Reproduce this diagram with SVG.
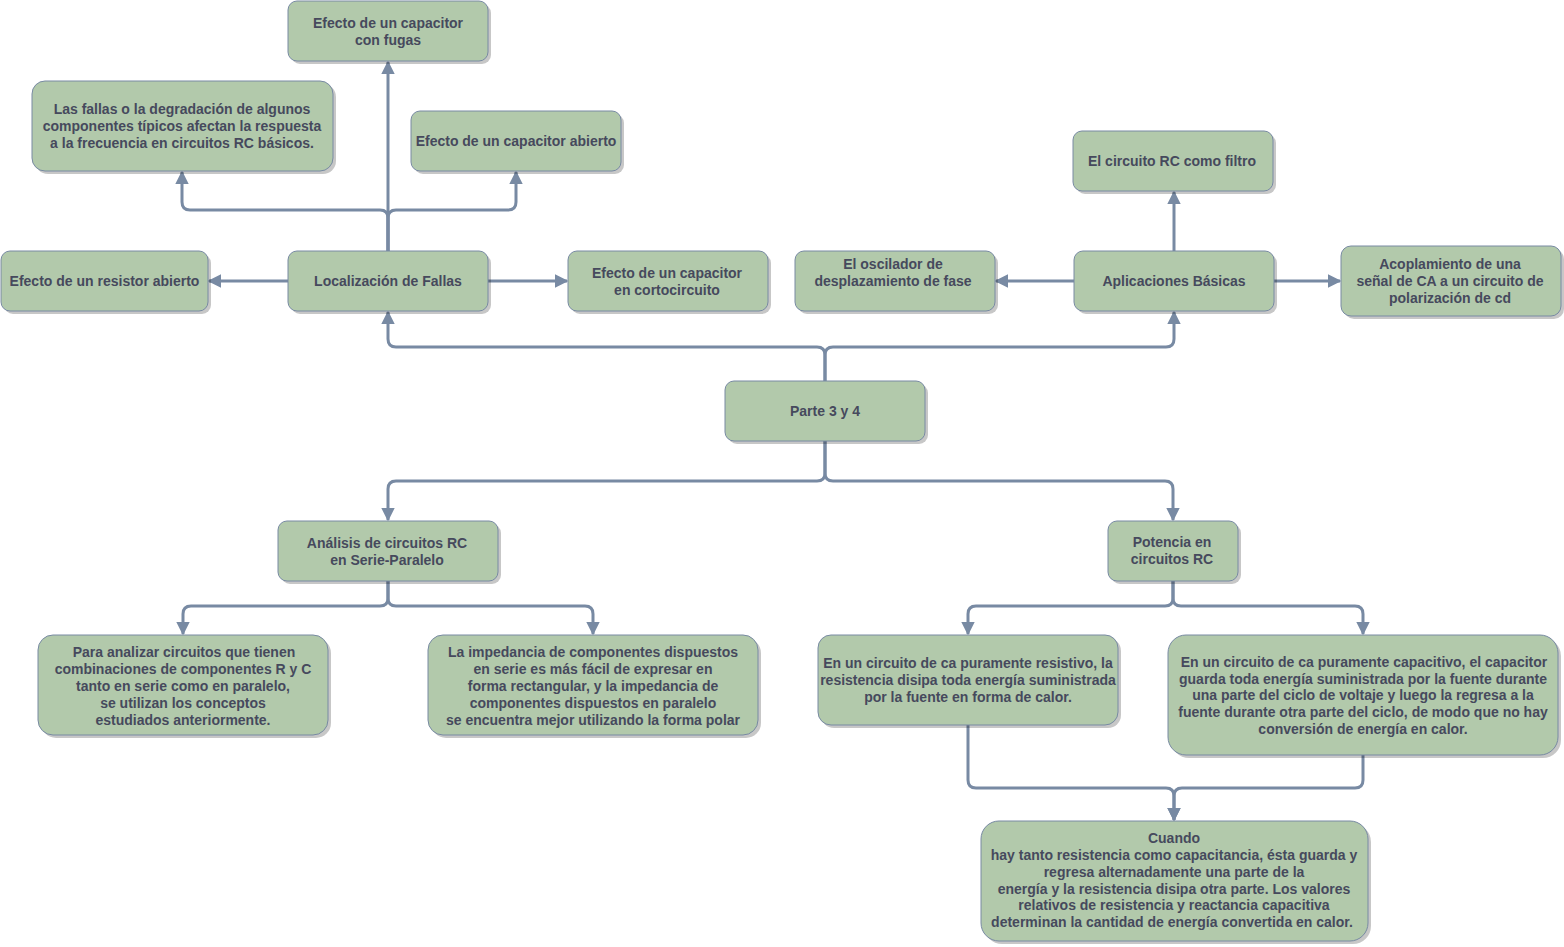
<svg xmlns="http://www.w3.org/2000/svg" width="1564" height="947" viewBox="0 0 1564 947">
<defs>
<style>
.n rect.b{fill:#B2C9AB;stroke:#788AA3;stroke-width:1}
.n rect.s{fill:#000;opacity:0.22}
.n text{font-family:"Liberation Sans",Arial,Helvetica,sans-serif;font-size:14px;font-weight:bold;fill:#46495D;text-anchor:middle}
.c path{fill:none;stroke:#788AA3;stroke-width:3;stroke-linejoin:round}
</style>
<marker id="ah" viewBox="0 0 10 10" refX="9" refY="5" markerWidth="4.5" markerHeight="4.5" markerUnits="strokeWidth" orient="auto">
<path d="M0,0 L10,5 L0,10 Z" fill="#788AA3"/>
</marker>
</defs>
<rect width="1564" height="947" fill="#ffffff"/>
<g class="c">
<path d="M825,381 V355 Q825,347 817,347 H396 Q388,347 388,339 V312" marker-end="url(#ah)"/>
<path d="M825,381 V355 Q825,347 833,347 H1166 Q1174,347 1174,339 V312" marker-end="url(#ah)"/>
<path d="M825,441 V473 Q825,481 817,481 H396 Q388,481 388,489 V520" marker-end="url(#ah)"/>
<path d="M825,441 V473 Q825,481 833,481 H1165 Q1173,481 1173,489 V520" marker-end="url(#ah)"/>
<path d="M388,251 V62" marker-end="url(#ah)"/>
<path d="M388,251 V218 Q388,210 380,210 H190 Q182,210 182,202 V172" marker-end="url(#ah)"/>
<path d="M388,251 V218 Q388,210 396,210 H508 Q516,210 516,202 V172" marker-end="url(#ah)"/>
<path d="M288,281 H209" marker-end="url(#ah)"/>
<path d="M488,281 H567" marker-end="url(#ah)"/>
<path d="M1174,251 V192" marker-end="url(#ah)"/>
<path d="M1074,281 H996" marker-end="url(#ah)"/>
<path d="M1274,281 H1340" marker-end="url(#ah)"/>
<path d="M388,581 V598 Q388,606 380,606 H191 Q183,606 183,614 V634" marker-end="url(#ah)"/>
<path d="M388,581 V598 Q388,606 396,606 H585 Q593,606 593,614 V634" marker-end="url(#ah)"/>
<path d="M1173,581 V598 Q1173,606 1165,606 H976 Q968,606 968,614 V634" marker-end="url(#ah)"/>
<path d="M1173,581 V598 Q1173,606 1181,606 H1355 Q1363,606 1363,614 V634" marker-end="url(#ah)"/>
<path d="M968,725 V780 Q968,788 976,788 H1166 Q1174,788 1174,796 V820" marker-end="url(#ah)"/>
<path d="M1363,755 V780 Q1363,788 1355,788 H1182 Q1174,788 1174,796 V820" marker-end="url(#ah)"/>
</g>
<g id="n1" class="n"><rect class="s" x="291" y="4" width="200" height="60" rx="9"/><rect class="b" x="288" y="1" width="200" height="60" rx="9"/><text x="388" y="28">Efecto de un capacitor</text><text x="388" y="45">con fugas</text></g>
<g id="n2" class="n"><rect class="s" x="35" y="84" width="301" height="90" rx="13"/><rect class="b" x="32" y="81" width="301" height="90" rx="13"/><text x="182" y="114">Las fallas o la degradación de algunos</text><text x="182" y="131">componentes típicos afectan la respuesta</text><text x="182" y="148">a la frecuencia en circuitos RC básicos.</text></g>
<g id="n3" class="n"><rect class="s" x="414" y="114" width="210" height="60" rx="9"/><rect class="b" x="411" y="111" width="210" height="60" rx="9"/><text x="516" y="146">Efecto de un capacitor abierto</text></g>
<g id="n4" class="n"><rect class="s" x="4" y="254" width="207" height="60" rx="9"/><rect class="b" x="1" y="251" width="207" height="60" rx="9"/><text x="104.5" y="286">Efecto de un resistor abierto</text></g>
<g id="n5" class="n"><rect class="s" x="291" y="254" width="200" height="60" rx="9"/><rect class="b" x="288" y="251" width="200" height="60" rx="9"/><text x="388" y="286">Localización de Fallas</text></g>
<g id="n6" class="n"><rect class="s" x="571" y="254" width="200" height="60" rx="9"/><rect class="b" x="568" y="251" width="200" height="60" rx="9"/><text x="667" y="278">Efecto de un capacitor</text><text x="667" y="295">en cortocircuito</text></g>
<g id="n7" class="n"><rect class="s" x="1076" y="134" width="200" height="60" rx="9"/><rect class="b" x="1073" y="131" width="200" height="60" rx="9"/><text x="1172" y="166">El circuito RC como filtro</text></g>
<g id="n8" class="n"><rect class="s" x="798" y="254" width="200" height="60" rx="9"/><rect class="b" x="795" y="251" width="200" height="60" rx="9"/><text x="893" y="269">El oscilador de</text><text x="893" y="286">desplazamiento de fase</text></g>
<g id="n9" class="n"><rect class="s" x="1077" y="254" width="200" height="60" rx="9"/><rect class="b" x="1074" y="251" width="200" height="60" rx="9"/><text x="1174" y="286">Aplicaciones Básicas</text></g>
<g id="n10" class="n"><rect class="s" x="1344" y="249" width="220" height="70" rx="10"/><rect class="b" x="1341" y="246" width="220" height="70" rx="10"/><text x="1450" y="269">Acoplamiento de una</text><text x="1450" y="286">señal de CA a un circuito de</text><text x="1450" y="303">polarización de cd</text></g>
<g id="n11" class="n"><rect class="s" x="728" y="384" width="200" height="60" rx="9"/><rect class="b" x="725" y="381" width="200" height="60" rx="9"/><text x="825" y="416">Parte 3 y 4</text></g>
<g id="n12" class="n"><rect class="s" x="281" y="524" width="220" height="60" rx="9"/><rect class="b" x="278" y="521" width="220" height="60" rx="9"/><text x="387" y="548">Análisis de circuitos RC</text><text x="387" y="565">en Serie-Paralelo</text></g>
<g id="n13" class="n"><rect class="s" x="1111" y="524" width="130" height="60" rx="9"/><rect class="b" x="1108" y="521" width="130" height="60" rx="9"/><text x="1172" y="547">Potencia en</text><text x="1172" y="564">circuitos RC</text></g>
<g id="n14" class="n"><rect class="s" x="41" y="638" width="290" height="100" rx="15"/><rect class="b" x="38" y="635" width="290" height="100" rx="15"/><text x="184" y="657">Para analizar circuitos que tienen</text><text x="183" y="674">combinaciones de componentes R y C</text><text x="183" y="691">tanto en serie como en paralelo,</text><text x="183" y="708">se utilizan los conceptos</text><text x="183" y="725">estudiados anteriormente.</text></g>
<g id="n15" class="n"><rect class="s" x="431" y="638" width="330" height="100" rx="15"/><rect class="b" x="428" y="635" width="330" height="100" rx="15"/><text x="593" y="657">La impedancia de componentes dispuestos</text><text x="593" y="674">en serie es más fácil de expresar en</text><text x="593" y="691">forma rectangular, y la impedancia de</text><text x="593" y="708">componentes dispuestos en paralelo</text><text x="593" y="725">se encuentra mejor utilizando la forma polar</text></g>
<g id="n16" class="n"><rect class="s" x="821" y="638" width="300" height="90" rx="13"/><rect class="b" x="818" y="635" width="300" height="90" rx="13"/><text x="968" y="668">En un circuito de ca puramente resistivo, la</text><text x="968" y="685">resistencia disipa toda energía suministrada</text><text x="968" y="702">por la fuente en forma de calor.</text></g>
<g id="n17" class="n"><rect class="s" x="1171" y="638" width="390" height="120" rx="18"/><rect class="b" x="1168" y="635" width="390" height="120" rx="18"/><text x="1364" y="667">En un circuito de ca puramente capacitivo, el capacitor</text><text x="1363" y="684">guarda toda energía suministrada por la fuente durante</text><text x="1363" y="700">una parte del ciclo de voltaje y luego la regresa a la</text><text x="1363" y="717">fuente durante otra parte del ciclo, de modo que no hay</text><text x="1363" y="734">conversión de energía en calor.</text></g>
<g id="n18" class="n"><rect class="s" x="984" y="824" width="387" height="120" rx="18"/><rect class="b" x="981" y="821" width="387" height="120" rx="18"/><text x="1174" y="843">Cuando</text><text x="1174" y="860">hay tanto resistencia como capacitancia, ésta guarda y</text><text x="1174" y="877">regresa alternadamente una parte de la</text><text x="1174" y="894">energía y la resistencia disipa otra parte. Los valores</text><text x="1174" y="910">relativos de resistencia y reactancia capacitiva</text><text x="1172" y="927">determinan la cantidad de energía convertida en calor.</text></g>
</svg>
